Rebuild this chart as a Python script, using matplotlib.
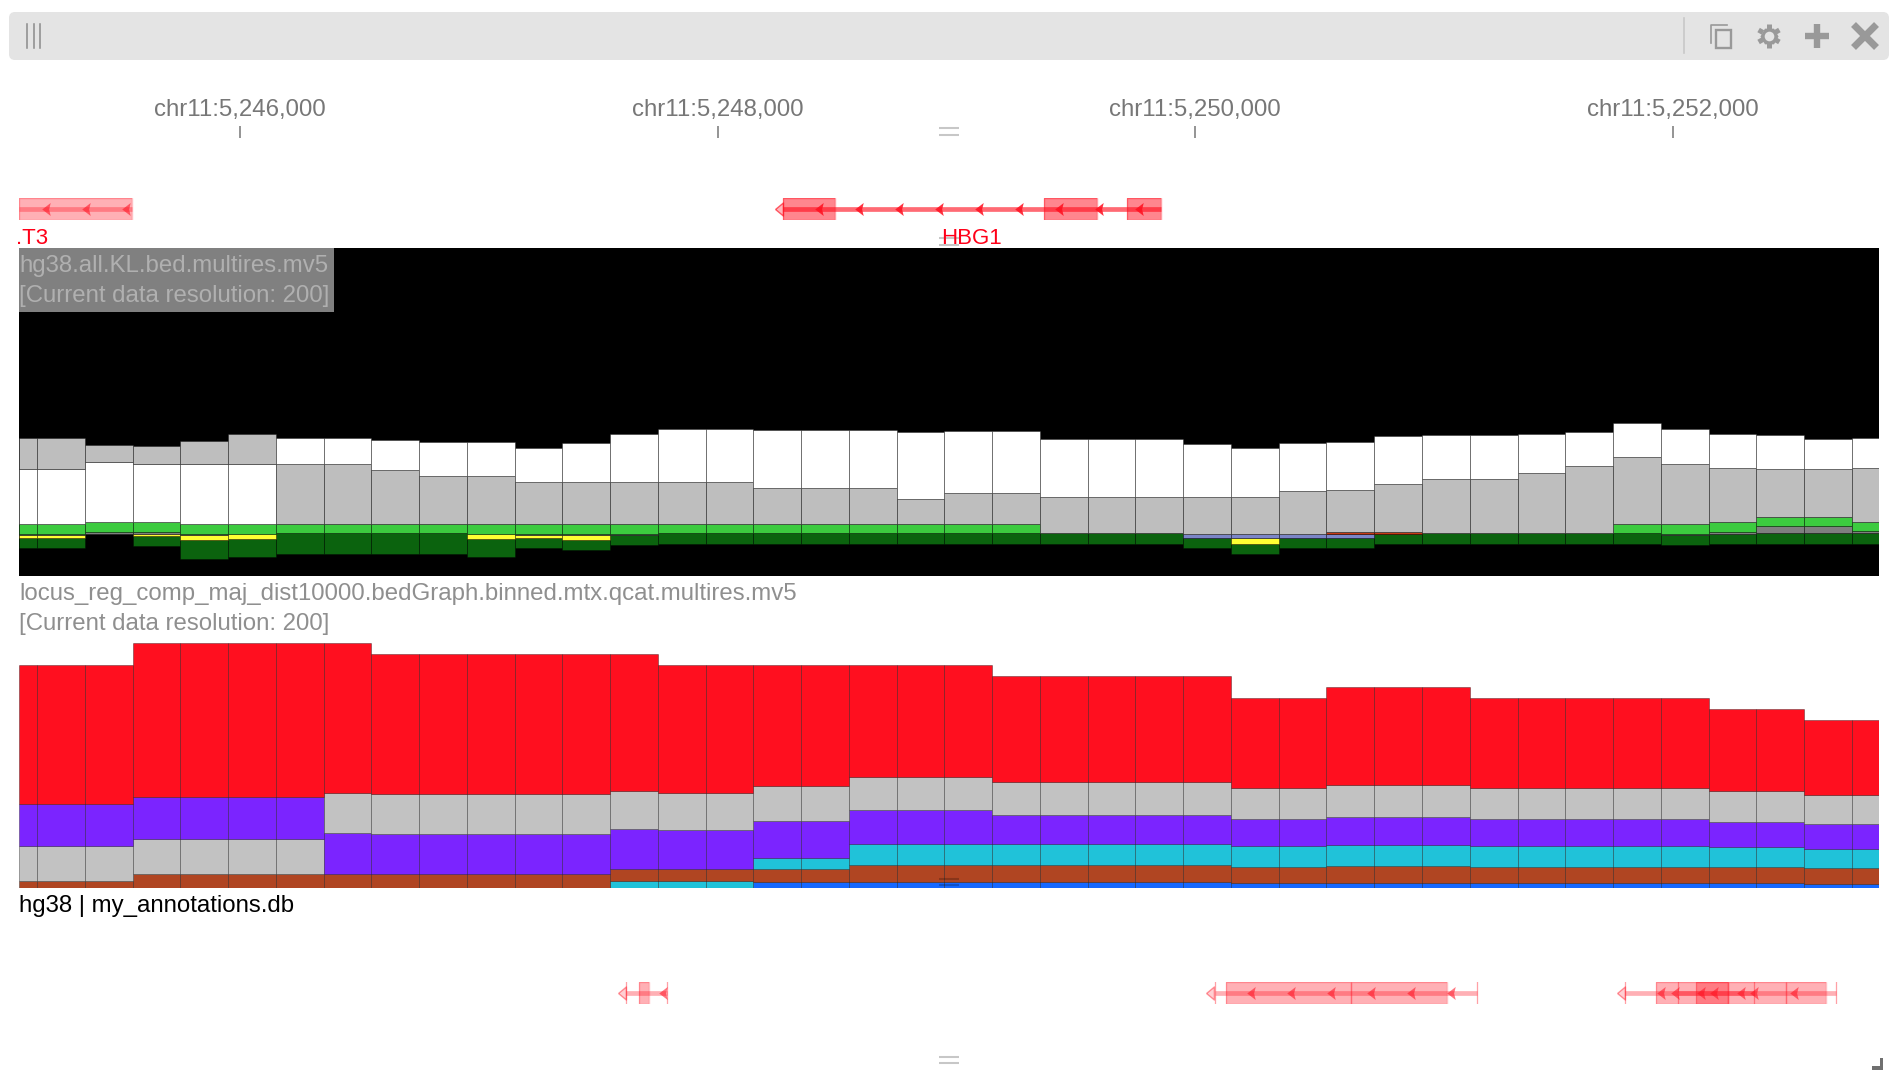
import numpy as np
import matplotlib
matplotlib.use("Agg")
import matplotlib.pyplot as plt
from matplotlib.patches import FancyBboxPatch, Rectangle

plt.rcParams["font.family"] = ["Liberation Sans", "DejaVu Sans"]

W, H = 1897, 1084

# genome window and bins
x_left, x_right = 5245074, 5252864
first_edge, resolution = 5245150, 200
tick_pos = [5246000, 5248000, 5250000, 5252000]
tick_labels = ["chr11:5,246,000", "chr11:5,248,000", "chr11:5,250,000", "chr11:5,252,000"]

# top track, stacked heights per bin
kl_black = [82,82,126,88,50,56,65,65,65,65,56,82,76,91,96,96,96,96,96,96,96,96,96,96,96,82,66,82,82,96,96,96,96,96,96,91,96,96,96,96]
kl_dkgreen = [30,30,0,30,56,55,62,62,62,62,55,30,30,30,32,32,32,32,32,32,32,32,31,31,31,30,30,30,30,30,31,31,31,31,31,30,30,31,31,31]
kl_yellow = [9,9,0,7,15,15,0,0,0,0,15,9,15,0,0,0,0,0,0,0,0,0,0,0,0,0,16,0,0,0,0,0,0,0,0,0,0,0,0,0]
kl_blue = [0]*25 + [14,14,14,14] + [0]*11
kl_red = [0]*28 + [5,5] + [0]*10
kl_midgray = [5,5,6,7,5,0,0,0,0,0,0,5,5,5] + [0]*21 + [5,6,21,21,6]
kl_green = [28,28,28,28,28,28,27,27,27,27,28,28,28,28,26,26,26,26,26,26,26,26,0,0,0,0,0,0,0,0,0,0,0,0,27,28,28,27,27,27]
kl_gray = [91,91,52,54,71,91,180,180,162,144,144,126,126,126,126,126,108,108,108,76,93,93,108,108,108,109,109,127,125,143,162,162,180,201,201,180,162,144,144,162]
kl_white = [167,167,180,176,180,180,78,78,90,104,104,104,117,145,159,159,174,174,174,202,186,186,174,174,174,160,147,146,146,145,132,132,119,103,102,105,102,102,90,90]
kl_gray_on_top = [True]*6 + [False]*34

# lower track, stacked heights per bin
reg_blue = [0]*16 + [18,18] + [16]*8 + [14,14,15,15,15,14,14,14,14,14,15,15,12,12]
reg_cyan = [0]*13 + [19,19,19,35,35] + [65]*8 + [63,63,65,65,65,63,63,63,63,63,60,60,59,59]
reg_brown = [19,19,19,41,41,41,41,40,40,40,40,40,40,38,38,38,37,37] + [51]*8 + [49]*10 + [46]*4
reg_purple = [126]*7 + [123,120,120,120,120,120,118,115,115,109,109,101,101,101,85,85,85,85,85,79,79,82,82,82,79,79,79,79,79,77,77,73,73]
reg_gray = [105,105,105,106,106,106,106,122,120,120,120,120,120,116,113,113,107,107,100,100,100,99,99,99,99,99,94,94,97,97,97,94,94,94,94,94,91,91,89,89]
reg_red = [418,418,418,462,462,462,462,450,422,422,422,422,422,411,383,383,362,362,335,335,335,318,318,318,318,318,269,269,293,293,293,269,269,269,269,269,246,246,223,223]
reg_gray_low = [True]*7 + [False]*33
reg_cyan_low = [False]*13 + [True]*3 + [False]*24

# genes: tip, line start, line end, exons, thin marks, arrows
t3_exons = [(5245074, 5245548)]
t3_arrows = [5245186, 5245354, 5245521]
hbg1_exons = [(5248272, 5248491), (5249367, 5249590), (5249713, 5249856)]
hbg1_arrows = [5248424, 5248593, 5248761, 5248928, 5249096, 5249263, 5249431, 5249598, 5249766]
anno_genes = [
    dict(tip=5247598, start=5247617, end=5247790, exons=[(5247671, 5247713)], thin=[5247617, 5247790], arrows=[5247770]),
    dict(tip=5250062, start=5250081, end=5251180, exons=[(5250129, 5250653), (5250653, 5251055)], thin=[5250081, 5251180],
         arrows=[5250234, 5250402, 5250569, 5250737, 5250906, 5251072]),
    dict(tip=5251785, start=5251800, end=5252684, exons=[(5251929, 5252231), (5252231, 5252473), (5252473, 5252643)],
         thin=[5251800, 5252684], arrows=[5251951, 5252119, 5252286, 5252508]),
    dict(tip=None, start=5252022, end=5252341, exons=[(5252099, 5252231)], thin=[5252022, 5252341], arrows=[5252008, 5252175, 5252341]),
]

RED = "#ff0f1f"
EDGE = (0, 0, 0, 0.33)
ARROW = [(-0.65, 0), (0.65, 1), (0.4, 0), (0.65, -1), (-0.65, 0)]
TIP = [(-0.6, 0), (0.6, 1), (0.6, -1), (-0.6, 0)]

edges = np.r_[x_left, first_edge + resolution * np.arange(39), x_right]
lefts = edges[:-1]
widths = np.diff(edges)

fig = plt.figure(figsize=(W / 100, H / 100), dpi=100, facecolor="white")


def px_axes(x0, y0, x1, y1, **kw):
    return fig.add_axes([x0 / W, 1 - y1 / H, (x1 - x0) / W, (y1 - y0) / H], **kw)


def track_axes(y0, y1, ymin=0, ymax=1, facecolor="none"):
    ax = px_axes(19, y0, 1879, y1, facecolor=facecolor)
    ax.set_xlim(x_left, x_right)
    ax.set_ylim(ymin, ymax)
    ax.axis("on" if facecolor != "none" else "off")
    ax.set_xticks([])
    ax.set_yticks([])
    for s in ax.spines.values():
        s.set_visible(False)
    return ax


def draw(ax, values, color, base, mask=None):
    values = np.asarray(values, dtype=float)
    keep = values > 0
    if mask is not None:
        keep = keep & np.asarray(mask)
    ax.bar(lefts[keep], values[keep], widths[keep], bottom=base[keep], align="edge",
           color=color, edgecolor=EDGE, linewidth=0.7)
    base[keep] += values[keep]


def draw_gene(ax, exons, arrows, start, end, tip=None, thin=(), alpha=0.33, line_alpha=0.33):
    ax.plot([start, end], [0, 0], color=RED, lw=3.4, alpha=line_alpha, solid_capstyle="butt")
    for a, b in exons:
        ax.add_patch(Rectangle((a, -1), b - a, 2, facecolor=RED, alpha=alpha, lw=0))
        ax.add_patch(Rectangle((a, -1), b - a, 2, fill=False, edgecolor=RED, alpha=alpha * 0.8, lw=1))
    for t in thin:
        ax.plot([t, t], [-1, 1], color=RED, lw=0.9, alpha=alpha * 1.2)
    ax.plot(arrows, [0] * len(arrows), ls="none", marker=ARROW, ms=9.4, color=RED, mew=0, alpha=min(alpha * 1.7, 1))
    if tip is not None:
        ax.plot([tip], [0], ls="none", marker=TIP, ms=9.4, mfc=(1, 0.06, 0.12, alpha * 0.6),
                mec=(1, 0.06, 0.12, alpha * 1.3), mew=1)


# page chrome, in pixels
chrome = px_axes(0, 0, W, H, facecolor="none")
chrome.set_xlim(0, W)
chrome.set_ylim(H, 0)
chrome.axis("off")
chrome.set_zorder(5)

chrome.add_patch(FancyBboxPatch((9, 12), 1880, 48, boxstyle="round,pad=0,rounding_size=6", fc="#e4e4e4", lw=0))
for x in [27.3, 33.9, 40.4]:
    chrome.plot([x, x], [24, 48], color="#8a8a8a", lw=1.1)
chrome.plot([1684, 1684], [18, 53], color="#c8c8c8", lw=1.2)
ICON = "#999999"
chrome.plot([1711, 1711, 1727], [43, 25, 25], color=ICON, lw=1.2)
chrome.add_patch(Rectangle((1716, 30), 15, 18, fc="none", ec=ICON, lw=1.7))
theta = np.deg2rad(np.arange(30, 390, 60))
chrome.scatter([1769], [36], s=170, marker="H", color=ICON, lw=0)
for t in theta:
    chrome.plot([1769 + 7 * np.cos(t), 1769 + 12 * np.cos(t)], [36 + 7 * np.sin(t), 36 + 12 * np.sin(t)], color=ICON, lw=3.6, solid_capstyle="butt")
chrome.scatter([1769], [36], s=48, marker="o", color="#e4e4e4", lw=0)
chrome.plot([1805, 1829], [36, 36], color=ICON, lw=4.6, solid_capstyle="butt")
chrome.plot([1817, 1817], [24, 48], color=ICON, lw=4.6, solid_capstyle="butt")
chrome.plot([1853.5, 1876.5], [24.5, 47.5], color=ICON, lw=5, solid_capstyle="butt")
chrome.plot([1853.5, 1876.5], [47.5, 24.5], color=ICON, lw=5, solid_capstyle="butt")

# resize handles
for y in [128.3, 135, 238, 245, 879, 885, 1057, 1063]:
    chrome.plot([939, 959], [y, y], color="black", alpha=0.22, lw=1.5, solid_capstyle="butt")
chrome.add_patch(Rectangle((1879.5, 1058), 3.5, 12, fc="#707070", lw=0))
chrome.add_patch(Rectangle((1871.5, 1066), 11.5, 4, fc="#707070", lw=0))

# ruler
ruler = px_axes(19, 137.5, 1879, 138.5, facecolor="none")
ruler.set_xlim(x_left, x_right)
ruler.set_yticks([])
for s in ruler.spines.values():
    s.set_visible(False)
ruler.xaxis.tick_top()
ruler.set_xticks(tick_pos)
ruler.set_xticklabels(tick_labels, fontsize=17.3, color="#777777")
ruler.tick_params(axis="x", length=8.6, width=1.1, color="#777777", pad=3.4)

# gene track
genes = track_axes(198, 220, -1, 1)
draw_gene(genes, t3_exons, t3_arrows, x_left, 5245548)
draw_gene(genes, hbg1_exons, hbg1_arrows, 5248272, 5249856, tip=5248255, alpha=0.5, line_alpha=0.62)
chrome.text(16.5, 244, ".T3", color="#ff0018", fontsize=16, va="baseline")
chrome.text(941, 244, "HBG1", color="#ff0018", fontsize=16, va="baseline")

# black stacked track
ax_kl = track_axes(248, 575.67, 0, 983, facecolor="black")
base = np.zeros(40)
for vals, col in [(kl_black, "black"), (kl_dkgreen, "#0b630e"), (kl_yellow, "#ffff33"), (kl_blue, "#7b85c8"),
                  (kl_red, "#c83a14"), (kl_midgray, "#7f7f7f"), (kl_green, "#3ccb3f")]:
    draw(ax_kl, vals, col, base)
on_top = np.array(kl_gray_on_top)
draw(ax_kl, kl_white, "white", base, on_top)
draw(ax_kl, kl_gray, "#bebebe", base)
draw(ax_kl, kl_white, "white", base, ~on_top)

chrome.add_patch(Rectangle((19, 248), 315, 64, fc="#808080", lw=0))
chrome.text(19, 272, "hg38.all.KL.bed.multires.mv5", color="#b0b0b0", fontsize=17.3, va="baseline")
chrome.text(19, 302, "[Current data resolution: 200]", color="#b0b0b0", fontsize=17.3, va="baseline")

# second label
chrome.text(19, 600, "locus_reg_comp_maj_dist10000.bedGraph.binned.mtx.qcat.multires.mv5", color="#8f8f8f", fontsize=17.3, va="baseline")
chrome.text(19, 630, "[Current data resolution: 200]", color="#8f8f8f", fontsize=17.3, va="baseline")

# lower stacked track
ax_reg = track_axes(642.67, 887.67, 0, 735)
base = np.zeros(40)
gray_low = np.array(reg_gray_low)
cyan_low = np.array(reg_cyan_low)
draw(ax_reg, reg_blue, "#1668ff", base)
draw(ax_reg, reg_cyan, "#20c2d9", base, cyan_low)
draw(ax_reg, reg_brown, "#b04522", base)
draw(ax_reg, reg_cyan, "#20c2d9", base, ~cyan_low)
draw(ax_reg, reg_gray, "#c2c2c2", base, gray_low)
draw(ax_reg, reg_purple, "#7b24ff", base)
draw(ax_reg, reg_gray, "#c2c2c2", base, ~gray_low)
draw(ax_reg, reg_red, "#ff0f1f", base)

chrome.text(19, 912, "hg38 | my_annotations.db", color="black", fontsize=17.3, va="baseline")

# annotation track
anno = track_axes(982, 1003.7, -1, 1)
for g in anno_genes:
    draw_gene(anno, g["exons"], g["arrows"], g["start"], g["end"], tip=g["tip"], thin=g["thin"], alpha=0.33, line_alpha=0.33)

fig.savefig("out.png", dpi=100)
